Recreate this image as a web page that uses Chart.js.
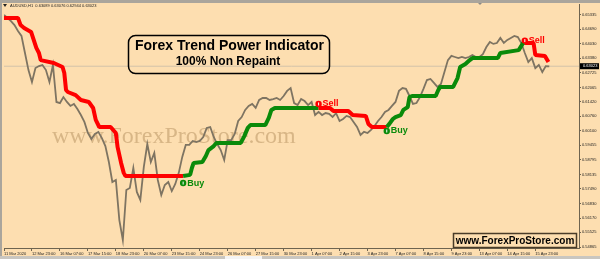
<!DOCTYPE html>
<html>
<head>
<meta charset="utf-8">
<script src="https://cdn.jsdelivr.net/npm/chart.js@4.4.1/dist/chart.umd.min.js"></script>
<style>
    html, body { margin: 0; padding: 0; background: #fddeb0; }
    #wrap { position: relative; width: 600px; height: 259px; }
</style>
</head>
<body>
<div id="wrap"><canvas id="chart" width="600" height="259"></canvas></div>
<script>
// AUDUSD H1 closes, one every 4 bars
const barStep = 4;
const closes = [
    0.6534, 0.6520, 0.6506, 0.6488, 0.6461, 0.6439, 0.6362, 0.6285, 0.6231, 0.6294,
    0.6303, 0.6308, 0.6285, 0.6231, 0.6308, 0.6141, 0.6136, 0.6163, 0.6141, 0.6123,
    0.6132, 0.6109, 0.6082, 0.6051, 0.6001, 0.5974, 0.5997, 0.6006, 0.5978, 0.5942,
    0.5870, 0.5780, 0.5789, 0.5608, 0.5518, 0.5744, 0.5753, 0.5843, 0.5735, 0.5699,
    0.5848, 0.5951, 0.5870, 0.5911, 0.5789, 0.5721, 0.5766, 0.5780, 0.5739, 0.5771,
    0.5821, 0.5893, 0.5947, 0.5947, 0.5965, 0.5960, 0.5965, 0.5983, 0.6024, 0.6028,
    0.5983, 0.5951, 0.5924, 0.5879, 0.5969, 0.5969, 0.5997, 0.6055, 0.6073, 0.6105,
    0.6123, 0.6132, 0.6114, 0.6150, 0.6159, 0.6159, 0.6150, 0.6154, 0.6159, 0.6150,
    0.6168, 0.6191, 0.6204, 0.6136, 0.6127, 0.6154, 0.6145, 0.6127, 0.6141, 0.6082,
    0.6096, 0.6082, 0.6091, 0.6087, 0.6073, 0.6091, 0.6055, 0.6064, 0.6078, 0.6073,
    0.6051, 0.6028, 0.5992, 0.6006, 0.6001, 0.6015, 0.6033, 0.6055, 0.6073, 0.6096,
    0.6105, 0.6123, 0.6141, 0.6191, 0.6204, 0.6200, 0.6168, 0.6132, 0.6136, 0.6163,
    0.6200, 0.6240, 0.6245, 0.6227, 0.6209, 0.6222, 0.6276, 0.6330, 0.6349, 0.6344,
    0.6339, 0.6344, 0.6339, 0.6344, 0.6353, 0.6344, 0.6344, 0.6357, 0.6389, 0.6412,
    0.6403, 0.6407, 0.6430, 0.6407, 0.6421, 0.6430, 0.6439, 0.6434, 0.6407, 0.6362,
    0.6321, 0.6339, 0.6294, 0.6308, 0.6276, 0.6303, 0.6302
];

// indicator line vertices (bar index / price)
const trendBars = [
    0, 16, 19, 23, 31, 34, 37, 40, 42, 57, 62, 67, 69, 71, 73, 82, 88, 97, 102, 105,
    109, 122, 128, 130, 134, 137, 139, 205,
    213, 215, 217, 227, 231, 234, 240, 243, 271, 275, 279, 282, 299, 303, 306, 310, 360,
    373, 377, 394, 399, 414, 417, 421, 438,
    441, 445, 448, 454, 457, 462, 464, 467, 494, 497, 499, 514, 519, 522, 528, 533, 536,
    565, 568, 589, 594, 596,
    606, 608, 619, 623
];
const trendPrices = [
    0.6520, 0.6520, 0.6488, 0.6475, 0.6457, 0.6421, 0.6385, 0.6362, 0.6330, 0.6317,
    0.6308, 0.6299, 0.6272, 0.6195, 0.6186, 0.6172, 0.6150, 0.6141, 0.6114, 0.6060,
    0.6028, 0.6028, 0.6001, 0.5937, 0.5866, 0.5821, 0.5807, 0.5807,
    0.5812, 0.5843, 0.5866, 0.5870, 0.5897, 0.5924, 0.5942, 0.5956, 0.5956, 0.5987,
    0.6024, 0.6037, 0.6037, 0.6069, 0.6105, 0.6114, 0.6114,
    0.6114, 0.6100, 0.6100, 0.6082, 0.6078, 0.6042, 0.6028, 0.6028,
    0.6042, 0.6064, 0.6073, 0.6082, 0.6105, 0.6118, 0.6163, 0.6168, 0.6168, 0.6195,
    0.6209, 0.6209, 0.6249, 0.6299, 0.6312, 0.6330, 0.6339,
    0.6339, 0.6362, 0.6375, 0.6407, 0.6407,
    0.6407, 0.6353, 0.6348, 0.6321
];
const firstSide = 'sell';

// arrows
const signalBars = [205, 360, 438, 596];
const signalPrices = [0.5775, 0.6132, 0.6010, 0.6418];
const signalSides = ['buy', 'sell', 'buy', 'sell'];

const priceTicks = [
    0.65335, 0.64690, 0.64030, 0.63380, 0.62725, 0.62065, 0.61420, 0.60760, 0.60100,
    0.59455, 0.58795, 0.58135, 0.57490, 0.56830, 0.56170, 0.55525, 0.54865
];
const timeLabels = [
    '11 Mar 2020', '12 Mar 23:00', '16 Mar 07:00', '17 Mar 15:00', '18 Mar 23:00',
    '20 Mar 07:00', '23 Mar 15:00', '24 Mar 23:00', '26 Mar 07:00', '27 Mar 15:00',
    '30 Mar 23:00', '1 Apr 07:00', '2 Apr 15:00', '3 Apr 23:00', '7 Apr 07:00',
    '8 Apr 15:00', '9 Apr 23:00', '13 Apr 07:00', '14 Apr 15:00', '15 Apr 23:00'
];
const barsPerLabel = 32;
const lastPrice = 0.63023;
const headerText = 'AUDUSD,H1  0.63089 0.63076 0.62944 0.63023';

const RED = '#ff0000';
const GREEN = '#0a8a0a';
const AXIS = '#6e6450';
const BG = '#fddeb0';

const sideAt = (bar) => {
    let side = firstSide;
    signalBars.forEach((b, i) => {
        if (bar >= b) side = signalSides[i];
    });
    return side;
};

const SANS = '"Liberation Sans", Arial, sans-serif';
Chart.defaults.font.family = SANS;

const backdrop = {
    id: 'backdrop',
    beforeDraw(chart) {
        const ctx = chart.ctx;
        const w = chart.width, h = chart.height;
        ctx.save();
        ctx.fillStyle = BG;
        ctx.fillRect(0, 0, w, h);
        // window frame bits
        ctx.fillStyle = '#aaa59c';
        ctx.fillRect(0, 0, w, 3);
        ctx.fillRect(0, 0, 2, h);
        ctx.fillStyle = '#c9c6c0';
        ctx.fillRect(0, 256, w, 3);
        ctx.fillStyle = '#f4f4f4';
        ctx.fillRect(225, 256, 37, 3);
        ctx.restore();
    },
    beforeDatasetsDraw(chart) {
        const ctx = chart.ctx;
        ctx.save();
        ctx.font = '24px "Liberation Serif", "Times New Roman", serif';
        ctx.fillStyle = 'rgba(150, 112, 62, 0.36)';
        ctx.textAlign = 'left';
        ctx.textBaseline = 'alphabetic';
        ctx.fillText('www.ForexProStore.com', 52, 143);
        ctx.restore();
    },
    afterDatasetsDraw(chart) {
        const ctx = chart.ctx;
        const ys = chart.scales.y;
        ctx.save();

        // buy / sell words next to arrows
        const meta = chart.getDatasetMeta(3);
        ctx.font = 'bold 9px ' + SANS;
        ctx.textAlign = 'left';
        ctx.textBaseline = 'middle';
        meta.data.forEach((pt, i) => {
            const buy = signalSides[i] === 'buy';
            ctx.fillStyle = buy ? GREEN : RED;
            ctx.fillText(buy ? 'Buy' : 'Sell', pt.x + 4, pt.y);
            ctx.fillStyle = '#ffffff';
            ctx.fillRect(pt.x - 0.5, pt.y - 1.5, 1, 3);
        });

        // header
        ctx.font = '4px ' + SANS;
        ctx.fillStyle = '#222';
        ctx.textBaseline = 'middle';
        ctx.fillText(headerText, 10, 5.5);
        ctx.beginPath();
        ctx.moveTo(3, 4); ctx.lineTo(7, 4); ctx.lineTo(5, 7); ctx.closePath();
        ctx.fill();
        // shift marker
        ctx.fillStyle = '#8d8a84';
        ctx.beginPath();
        ctx.moveTo(478, 3); ctx.lineTo(482, 3); ctx.lineTo(480, 5); ctx.closePath();
        ctx.fill();

        // title box
        ctx.strokeStyle = '#000';
        ctx.lineWidth = 1.5;
        ctx.beginPath();
        ctx.roundRect(128.5, 35.5, 201, 38, 7);
        ctx.stroke();
        ctx.fillStyle = '#000';
        ctx.textAlign = 'center';
        ctx.font = 'bold 14px ' + SANS;
        ctx.fillText('Forex Trend Power Indicator', 229.5, 46);
        ctx.font = 'bold 12px ' + SANS;
        ctx.fillText('100% Non Repaint', 228, 61.5);

        // site box
        ctx.fillStyle = BG;
        ctx.fillRect(453, 233, 124, 15);
        ctx.strokeStyle = '#4a3c28';
        ctx.lineWidth = 1.5;
        ctx.strokeRect(453.5, 233.5, 123, 14);
        ctx.fillStyle = '#000';
        ctx.font = 'bold 10px ' + SANS;
        ctx.fillText('www.ForexProStore.com', 515, 241);

        // current price tag
        const py = ys.getPixelForValue(lastPrice);
        ctx.fillStyle = '#000';
        ctx.fillRect(580, py - 3, 19, 6);
        ctx.fillStyle = '#fff';
        ctx.font = '4px ' + SANS;
        ctx.textAlign = 'left';
        ctx.fillText(lastPrice.toFixed(5), 583, py);
        ctx.restore();
    }
};

const ctx = document.getElementById('chart').getContext('2d');
new Chart(ctx, {
    type: 'line',
    data: {
        datasets: [
            {
                label: 'trend',
                data: trendBars.map((b, i) => ({ x: b, y: trendPrices[i] })),
                borderWidth: 4,
                borderColor: RED,
                borderJoinStyle: 'bevel',
                borderCapStyle: 'butt',
                pointRadius: 0,
                segment: {
                    borderColor: (c) => sideAt(trendBars[c.p0DataIndex]) === 'buy' ? GREEN : RED,
                },
                order: 1,
            },
            {
                label: 'AUDUSD',
                data: closes.map((c, i) => ({ x: i * barStep, y: c })),
                borderWidth: 1.8,
                borderColor: '#7e7462',
                pointRadius: 0,
                order: 2,
            },
            {
                label: 'last',
                data: [{ x: 0, y: lastPrice }, { x: 658, y: lastPrice }],
                borderWidth: 1,
                borderColor: '#d2c3aa',
                pointRadius: 0,
                order: 3,
            },
            {
                label: 'signals',
                data: signalBars.map((b, i) => ({ x: b, y: signalPrices[i] })),
                showLine: false,
                pointRadius: 3.2,
                pointBorderWidth: 0,
                pointBackgroundColor: signalSides.map(s => s === 'buy' ? GREEN : RED),
                order: 0,
            },
        ],
    },
    options: {
        responsive: false,
        animation: false,
        devicePixelRatio: 1,
        layout: { padding: { left: 3, top: 4, right: 0, bottom: 0 } },
        plugins: { legend: { display: false }, tooltip: { enabled: false } },
        scales: {
            x: {
                type: 'linear',
                min: 0,
                max: 658,
                afterBuildTicks: (scale) => {
                    scale.ticks = timeLabels.map((t, i) => ({ value: i * barsPerLabel }));
                },
                afterFit: (scale) => {
                    scale.height = 11;
                    scale.paddingLeft = 0;
                    scale.paddingRight = 0;
                },
                ticks: {
                    autoSkip: false,
                    maxRotation: 0,
                    align: 'start',
                    padding: 0,
                    color: '#222',
                    font: { size: 4 },
                    callback: (v, i) => timeLabels[i],
                },
                grid: { drawOnChartArea: false, tickLength: 3, color: AXIS },
                border: { color: AXIS, width: 1 },
            },
            y: {
                position: 'right',
                min: 0.54820,
                max: 0.65831,
                afterBuildTicks: (scale) => {
                    scale.ticks = priceTicks.map(v => ({ value: v }));
                },
                afterFit: (scale) => {
                    scale.width = 21;
                    scale.paddingTop = 0;
                    scale.paddingBottom = 0;
                },
                ticks: {
                    padding: 1,
                    color: '#222',
                    font: { size: 4 },
                    callback: (v) => v.toFixed(5),
                },
                grid: { drawOnChartArea: false, tickLength: 2, color: AXIS },
                border: { color: AXIS, width: 1 },
            },
        },
    },
    plugins: [backdrop],
});
</script>
</body>
</html>
